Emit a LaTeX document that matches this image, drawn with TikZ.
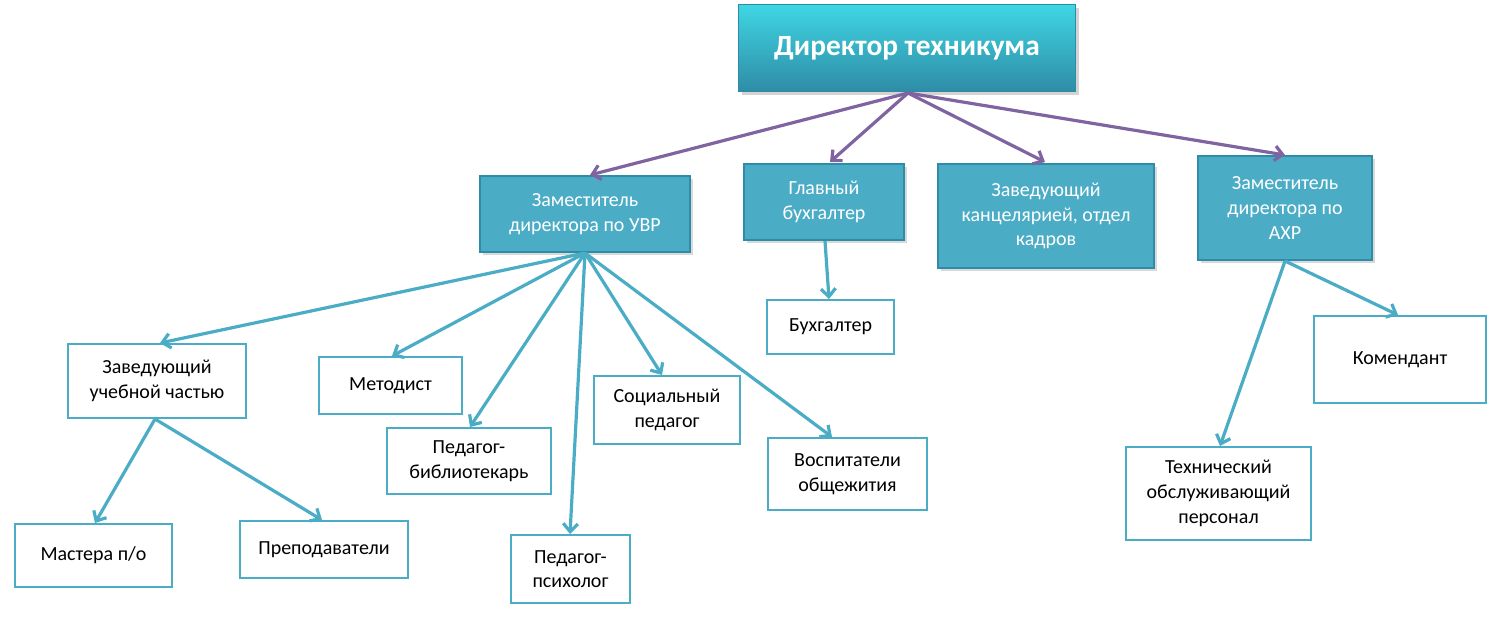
\documentclass[tikz,border=0pt]{standalone}
\usepackage{fontspec}
\setmainfont{Carlito}
\usetikzlibrary{arrows.meta,shadows}
\definecolor{teal}{HTML}{4BACC6}
\definecolor{tealdark}{HTML}{2F8CA6}
\definecolor{purp}{HTML}{8064A2}
\begin{document}
\begin{tikzpicture}[x=0.75pt,y=-0.75pt,
  wbox/.style={draw=teal,line width=2.2pt,fill=white,align=center,font=\fontsize{15}{18.5}\selectfont,inner sep=0pt},
  tbox/.style={draw=tealdark,line width=2.2pt,fill=teal,text=white,align=center,font=\fontsize{15}{18.5}\selectfont,inner sep=0pt,drop shadow={opacity=0.3}},
  tarr/.style={draw=teal,line width=2.4pt,-{Straight Barb[length=6pt,width=11pt]}},
  parr/.style={draw=purp,line width=2.4pt,-{Straight Barb[length=6pt,width=11pt]}}]
\useasboundingbox (0,0) rectangle (1512,621);
\def\bx#1#2#3#4#5#6#7{\node[#1,minimum width={(#5-#3)*0.75pt},minimum height={(#6-#4)*0.75pt}] (#2) at ({(#3+#5)/2},{(#4+#6)/2}) {#7};}
\node[draw=tealdark,line width=1pt,top color=cyan!45!teal!90,bottom color=tealdark,minimum width=253pt,minimum height=65pt,text=white,font=\fontsize{22}{26}\selectfont\bfseries,drop shadow={opacity=0.35}] (dir) at (907,48) {Директор техникума};
\bx{tbox}{uvr}{480}{176}{690}{252}{Заместитель\\директора по УВР}
\bx{tbox}{gb}{744}{164}{904}{240}{Главный\\бухгалтер}
\bx{tbox}{zk}{938}{164}{1154}{268}{Заведующий\\канцелярией, отдел\\кадров}
\bx{tbox}{axr}{1198}{156}{1372}{260}{Заместитель\\директора по\\АХР}
\bx{wbox}{zuch}{68}{344}{246}{418}{Заведующий\\учебной частью}
\bx{wbox}{met}{319}{357}{462}{414}{Методист}
\bx{wbox}{bib}{387}{428}{551}{494}{Педагог-\\библиотекарь}
\bx{wbox}{soc}{594}{376}{740}{444}{Социальный\\педагог}
\bx{wbox}{vos}{768}{438}{927}{510}{Воспитатели\\общежития}
\bx{wbox}{psy}{511}{535}{630}{603}{Педагог-\\психолог}
\bx{wbox}{mas}{15}{524}{172}{587}{Мастера п/о}
\bx{wbox}{pre}{240}{521}{408}{578}{Преподаватели}
\bx{wbox}{buh}{767}{300}{894}{354}{Бухгалтер}
\bx{wbox}{kom}{1314}{316}{1486}{403}{Комендант}
\bx{wbox}{teh}{1126}{447}{1311}{540}{Технический\\обслуживающий\\персонал}
\coordinate (d0) at (908,93);
\draw[parr] (d0) -- (590,175);
\draw[parr] (d0) -- (830,162);
\draw[parr] (d0) -- (1045,162);
\draw[parr] (d0) -- (1285,155);
\coordinate (u0) at (585,253);
\draw[tarr] (u0) -- (160,343);
\draw[tarr] (u0) -- (392,356);
\draw[tarr] (u0) -- (470,427);
\draw[tarr] (u0) -- (570,534);
\draw[tarr] (u0) -- (662,375);
\draw[tarr] (u0) -- (832,437);
\coordinate (z0) at (155,419);
\draw[tarr] (z0) -- (95,523);
\draw[tarr] (z0) -- (322,520);
\draw[tarr] (825,241) -- (829,299);
\coordinate (a0) at (1285,261);
\draw[tarr] (a0) -- (1220,446);
\draw[tarr] (a0) -- (1398,315);
\end{tikzpicture}
\end{document}
